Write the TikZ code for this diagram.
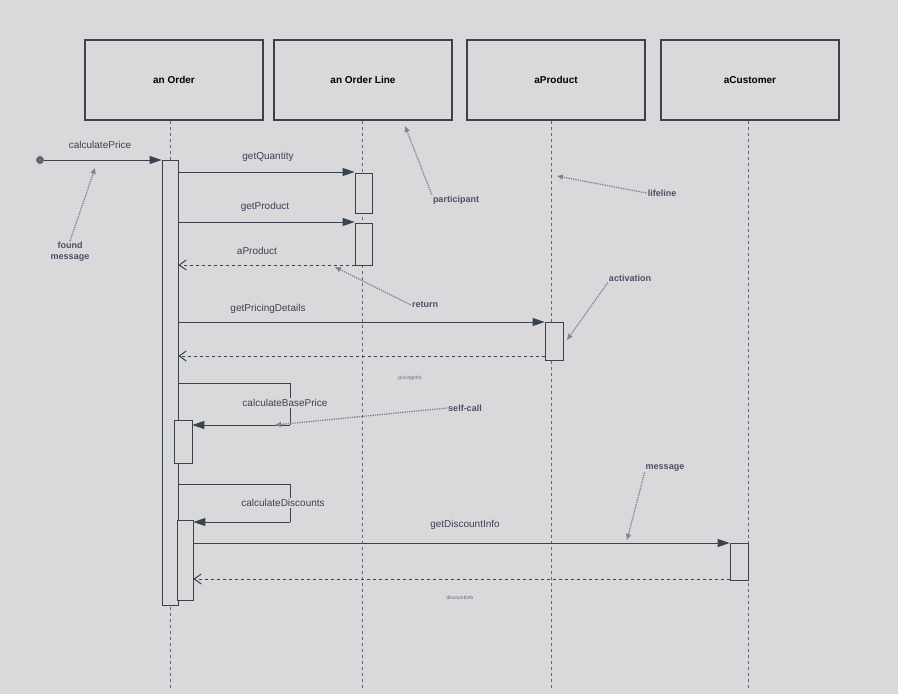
\documentclass[tikz,border=0pt]{standalone}
\usepackage{fontspec}
\setmainfont{Liberation Sans}
\usetikzlibrary{arrows.meta}
\definecolor{bg}{HTML}{D9D9DB}
\definecolor{ink}{HTML}{3A4250}
\definecolor{ann}{HTML}{4A5068}
\begin{document}
\begin{tikzpicture}[x=1pt,y=-1pt,
  part/.style={draw=ink,line width=1.2pt,fill=bg,minimum width=178pt,minimum height=80pt,font=\normalsize\bfseries},
  life/.style={draw=ink!80,dashed,line width=0.7pt},
  act/.style={draw=ink,line width=0.8pt,fill=bg},
  msg/.style={draw=ink,line width=1pt,-{Triangle[length=12pt,width=8pt]}},
  ret/.style={draw=ink,line width=1pt,dashed,-{Straight Barb[length=7pt,width=10pt]}},
  lbl/.style={font=\normalsize,text=ink,fill=bg,inner sep=1pt},
  tiny/.style={font=\tiny,text=ink!80},
  note/.style={font=\small\bfseries,text=ann,align=center,inner sep=1pt},
  pointer/.style={draw=ann!70,densely dotted,line width=1.3pt,-{Triangle[length=6pt,width=5pt]}}]
\fill[bg] (0,0) rectangle (898,694);
\useasboundingbox (0,0) rectangle (898,694);
% participants
\node[part] (o) at (174,80) {an Order};
\node[part] (ol) at (363,80) {an Order Line};
\node[part] (p) at (556,80) {aProduct};
\node[part] (c) at (750,80) {aCustomer};
\coordinate (oe) at (170,690); \coordinate (ole) at (362,690);
\coordinate (pe) at (551,690); \coordinate (ce) at (748,690);
\draw[life] (o.south -| oe) -- (oe);
\draw[life] (ol.south -| ole) -- (ole);
\draw[life] (p.south -| pe) -- (pe);
\draw[life] (c.south -| ce) -- (ce);
% activations
\node[act,minimum width=16pt,minimum height=445pt,inner sep=0pt] (ao) at (170,382.5) {};
\node[act,minimum width=17pt,minimum height=40pt,inner sep=0pt] (aol1) at (363.5,193) {};
\node[act,minimum width=17pt,minimum height=42pt,inner sep=0pt] (aol2) at (363.5,244) {};
\node[act,minimum width=18pt,minimum height=38pt,inner sep=0pt] (ap) at (554,341) {};
% found message
\node[circle,fill=ink!80,minimum size=8pt,inner sep=0pt] (f) at (40,160) {};
\draw[msg] (f) -- (f -| ao.west);
\node[lbl] (lf) at (100,145) {calculatePrice};
% messages
\coordinate (m1) at (178,172);
\draw[msg] (m1) -- (m1 -| aol1.west);
\node[lbl] (l1) at (268,157) {getQuantity};
\coordinate (m2) at (178,222);
\draw[msg] (m2) -- (m2 -| aol2.west);
\node[lbl] (l2) at (265,207) {getProduct};
\coordinate (m3) at (355,265);
\draw[ret] (m3) -- (m3 -| ao.east);
\node[lbl] (l3) at (257,251) {aProduct};
\coordinate (m4) at (178,322);
\draw[msg] (m4) -- (m4 -| ap.west);
\node[lbl] (l4) at (268,309) {getPricingDetails};
\coordinate (m5) at (545,356);
\draw[ret] (m5) -- (m5 -| ao.east);
\node[tiny] (l5) at (410,378) {pricingInfo};
% self calls
\coordinate (s1a) at (178,383); \coordinate (s1b) at (290,383); \coordinate (s1c) at (290,425);
\draw[ink,line width=1pt] (s1a) -- (s1b) -- (s1c);
\node[lbl] (l6) at (285,403) {calculateBasePrice};
\node[act,minimum width=18pt,minimum height=43pt,inner sep=0pt] (as1) at (183,441.5) {};
\draw[msg] (s1c) -- (s1c -| as1.east);
\coordinate (s2a) at (178,484); \coordinate (s2b) at (290,484); \coordinate (s2c) at (290,522);
\draw[ink,line width=1pt] (s2a) -- (s2b) -- (s2c);
\node[lbl] (l7) at (283,503) {calculateDiscounts};
\node[act,minimum width=16pt,minimum height=80pt,inner sep=0pt] (as2) at (185,560) {};
\draw[msg] (s2c) -- (s2c -| as2.east);
\node[act,minimum width=18pt,minimum height=37pt,inner sep=0pt] (ac) at (739,561.5) {};
\coordinate (m8) at (193,543);
\draw[msg] (m8) -- (m8 -| ac.west);
\node[lbl] (l8) at (465,525) {getDiscountInfo};
\coordinate (m9) at (730,579);
\draw[ret] (m9) -- (m9 -| as2.east);
\node[tiny] (l9) at (460,598) {discountInfo};
% annotations
\node[note] (nf) at (70,252) {found\\message};
\coordinate (tf) at (95,168);
\draw[pointer] (nf.north) -- (tf);
\node[note] (np) at (456,200) {participant};
\coordinate (tp) at (405,126);
\draw[pointer] (np.north west) -- (tp);
\node[note] (nl) at (662,193) {lifeline};
\coordinate (tl) at (557,176);
\draw[pointer] (nl.west) -- (tl);
\node[note] (nr) at (425,305) {return};
\coordinate (tr) at (335,267);
\draw[pointer] (nr.west) -- (tr);
\node[note] (na) at (630,278) {activation};
\coordinate (ta) at (567,340);
\draw[pointer] (na.south west) -- (ta);
\node[note] (ns) at (465,408) {self-call};
\coordinate (ts) at (275,425);
\draw[pointer] (ns.west) -- (ts);
\node[note] (nm) at (665,468) {message};
\coordinate (tm) at (627,540);
\draw[pointer] (nm.south west) -- (tm);
\end{tikzpicture}
\end{document}
